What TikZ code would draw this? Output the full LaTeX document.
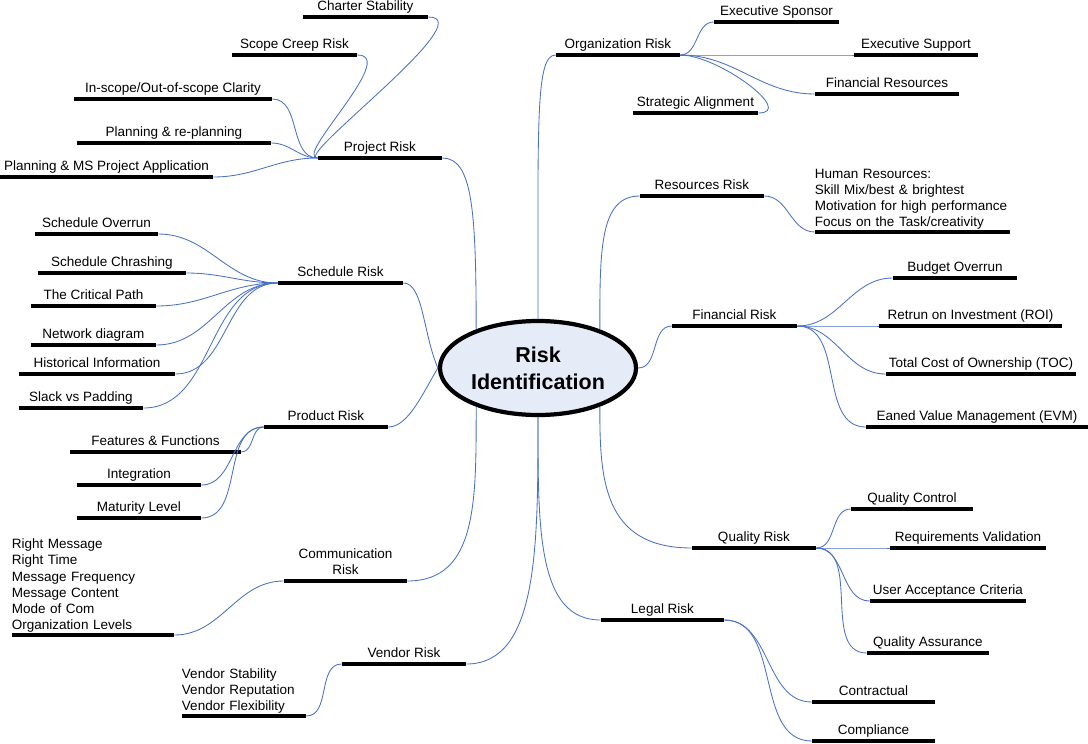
\documentclass[tikz,border=0pt]{standalone}
\usepackage{fontspec}
\setmainfont{Liberation Sans}
\usepackage{tikz}
\usetikzlibrary{shapes.geometric}
\usepackage{xcolor}
\definecolor{linkblue}{RGB}{72,112,196}
\definecolor{hubfill}{RGB}{230,236,247}

\begin{document}
\begin{tikzpicture}[x=0.025cm,y=-0.025cm]
    \tikzset{font=\fontsize{9.6}{11.4}\selectfont}
    \tikzset{bar/.style = {draw, line width=2.8pt}}
    \tikzset{topic/.style = {anchor=south, inner xsep=0pt, inner ysep=2pt,
        text depth=2.3pt, minimum width=3.1cm,
        append after command={(\tikzlastnode.south west) edge[bar] (\tikzlastnode.south east)}}}
    \tikzset{notes/.style = {topic, align=left, text depth=}}
    \tikzset{hub/.style = {ellipse, draw, line width=3pt, fill=hubfill,
        minimum width=4.9cm, minimum height=2.35cm, inner sep=0pt, align=center,
        font=\bfseries\fontsize{15.3}{19}\selectfont}}
    \tikzset{link/.style = {draw=linkblue, line width=0.6pt}}
    \useasboundingbox (0,0) rectangle (1088,744);

    % centre
    \node[hub] (risk) at (538,368) {Risk\\Identification};

    % main branches
    \node[topic] (project) at (380,158) {Project Risk};
    \node[topic] (org) at (618,55) {Organization Risk};
    \node[topic] (resources) at (702,196) {Resources Risk};
    \node[topic, minimum width=3.125cm] (schedule) at (340.5,283) {Schedule Risk};
    \node[topic] (product) at (326,427) {Product Risk};
    \node[topic, minimum width=3.125cm] (financial) at (734.5,326) {Financial Risk};
    \node[topic, align=center, minimum width=3.075cm] (comm) at (345.5,581) {Communication\\Risk};
    \node[topic] (vendor) at (404,664) {Vendor Risk};
    \node[topic] (quality) at (754,548) {Quality Risk};
    \node[topic, minimum width=3.075cm] (legal) at (662.5,620) {Legal Risk};

    % project risk
    \node[topic, minimum width=3.125cm] (charter) at (365.5,17) {Charter Stability};
    \node[topic, minimum width=3.125cm] (scope) at (294.5,55) {Scope Creep Risk};
    \node[topic, minimum width=4.95cm] (inscope) at (173,99) {In-scope/Out-of-scope Clarity};
    \node[topic, minimum width=4.85cm] (replan) at (174,143) {Planning \& re-planning};
    \node[topic, minimum width=5.325cm] (msproj) at (106.5,177) {Planning \& MS Project Application};

    % organization risk
    \node[topic, minimum width=3.125cm] (sponsor) at (776.5,22) {Executive Sponsor};
    \node[topic] (support) at (916,55) {Executive Support};
    \node[topic, minimum width=3.6cm] (finres) at (887,94) {Financial Resources};
    \node[topic, minimum width=3.125cm] (strategic) at (695.5,113) {Strategic Alignment};

    % resources risk
    \node[notes, text width=4.875cm] (hr) at (912.5,232)
        {Human Resources:\\Skill Mix/best \& brightest\\Motivation for high performance\\Focus on the Task/creativity};

    % schedule risk
    \node[topic, minimum width=3.075cm] (overrun) at (96.5,234) {Schedule Overrun};
    \node[topic, minimum width=3.7cm] (crashing) at (112,273) {Schedule Chrashing};
    \node[topic, minimum width=3.125cm] (critical) at (93.5,306) {The Critical Path};
    \node[topic, minimum width=3.125cm] (network) at (93.5,345) {Network diagram};
    \node[topic, minimum width=3.9cm] (historical) at (97,374) {Historical Information};
    \node[topic] (slack) at (81,408) {Slack vs Padding};

    % product risk
    \node[topic, minimum width=4.275cm] (features) at (155.5,452) {Features \& Functions};
    \node[topic] (integration) at (139,485) {Integration};
    \node[topic] (maturity) at (139,518) {Maturity Level};

    % financial risk
    \node[topic] (budget) at (955,278) {Budget Overrun};
    \node[topic, minimum width=4.575cm] (roi) at (970.5,326) {Retrun on Investment (ROI)};
    \node[topic, minimum width=4.75cm] (toc) at (981,374) {Total Cost of Ownership (TOC)};
    \node[topic, minimum width=5.55cm] (evm) at (977,427) {Eaned Value Management (EVM)};

    % communication and vendor risk
    \node[notes, text width=4.05cm] (comlist) at (93,635)
        {Right Message\\Right Time\\Message Frequency\\Message Content\\Mode of Com\\Organization Levels};
    \node[notes, text width=3.1cm] (vendlist) at (244,716)
        {Vendor Stability\\Vendor Reputation\\Vendor Flexibility};

    % quality risk
    \node[topic, minimum width=3.05cm] (qcontrol) at (912,509) {Quality Control};
    \node[topic, minimum width=3.9cm] (reqval) at (968,548) {Requirements Validation};
    \node[topic, minimum width=3.9cm] (uac) at (948,601) {User Acceptance Criteria};
    \node[topic, minimum width=3.05cm] (qassure) at (928,653) {Quality Assurance};

    % legal risk
    \node[topic, minimum width=3.075cm] (contract) at (873.5,702) {Contractual};
    \node[topic, minimum width=3.075cm] (compliance) at (873.5,741) {Compliance};

    % links from the centre
    \draw[link] (risk.148) .. controls +(0,-120) and +(30,0) .. (project.south east);
    \draw[link] (risk.north) .. controls +(0,-200) and +(-20,0) .. (org.south west);
    \draw[link] (risk.32) .. controls +(0,-80) and +(-40,0) .. (resources.south west);
    \draw[link] (risk.west) .. controls +(-15,-35) and +(20,0) .. (schedule.south east);
    \draw[link] (risk.west) .. controls +(-15,25) and +(20,0) .. (product.south east);
    \draw[link] (risk.east) to[out=0,in=180] (financial.south west);
    \draw[link] (risk.212) .. controls +(0,95) and +(70,0) .. (comm.south east);
    \draw[link] (risk.south) .. controls +(0,130) and +(72,0) .. (vendor.south east);
    \draw[link] (risk.328) .. controls +(0,70) and +(-90,0) .. (quality.south west);
    \draw[link] (risk.south) .. controls +(0,110) and +(-64,0) .. (legal.south west);

    % project links
    \draw[link] (project.south west) .. controls +(-25,0) and +(55,0) .. (charter.south east);
    \draw[link] (project.south west) .. controls +(-25,0) and +(42,0) .. (scope.south east);
    \draw[link] (project.south west) to[out=180,in=0] (inscope.south east);
    \draw[link] (project.south west) to[out=180,in=0] (replan.south east);
    \draw[link] (project.south west) to[out=180,in=0] (msproj.south east);

    % organization links
    \draw[link] (org.south east) to[out=0,in=180] (sponsor.south west);
    \draw[link] (org.south east) to[out=0,in=180] (support.south west);
    \draw[link] (org.south east) to[out=0,in=180] (finres.south west);
    \draw[link] (org.south east) to[out=0,in=0] (strategic.south east);

    % resources links
    \draw[link] (resources.south east) to[out=0,in=180] (hr.south west);

    % schedule links
    \draw[link] (schedule.south west) to[out=180,in=0] (overrun.south east);
    \draw[link] (schedule.south west) to[out=180,in=0] (crashing.south east);
    \draw[link] (schedule.south west) to[out=180,in=0] (critical.south east);
    \draw[link] (schedule.south west) to[out=180,in=0] (network.south east);
    \draw[link] (schedule.south west) to[out=180,in=0] (historical.south east);
    \draw[link] (schedule.south west) to[out=180,in=0] (slack.south east);

    % product links
    \draw[link] (product.south west) to[out=180,in=0] (features.south east);
    \draw[link] (product.south west) to[out=180,in=0] (integration.south east);
    \draw[link] (product.south west) to[out=180,in=0] (maturity.south east);

    % financial links
    \draw[link] (financial.south east) to[out=0,in=180] (budget.south west);
    \draw[link] (financial.south east) to[out=0,in=180] (roi.south west);
    \draw[link] (financial.south east) to[out=0,in=180] (toc.south west);
    \draw[link] (financial.south east) to[out=0,in=180] (evm.south west);

    % communication and vendor links
    \draw[link] (comm.south west) to[out=180,in=0] (comlist.south east);
    \draw[link] (vendor.south west) to[out=180,in=0] (vendlist.south east);

    % quality links
    \draw[link] (quality.south east) to[out=0,in=180] (qcontrol.south west);
    \draw[link] (quality.south east) to[out=0,in=180] (reqval.south west);
    \draw[link] (quality.south east) to[out=0,in=180] (uac.south west);
    \draw[link] (quality.south east) to[out=0,in=180] (qassure.south west);

    % legal links
    \draw[link] (legal.south east) to[out=0,in=180] (contract.south west);
    \draw[link] (legal.south east) to[out=0,in=180] (compliance.south west);
\end{tikzpicture}
\end{document}
